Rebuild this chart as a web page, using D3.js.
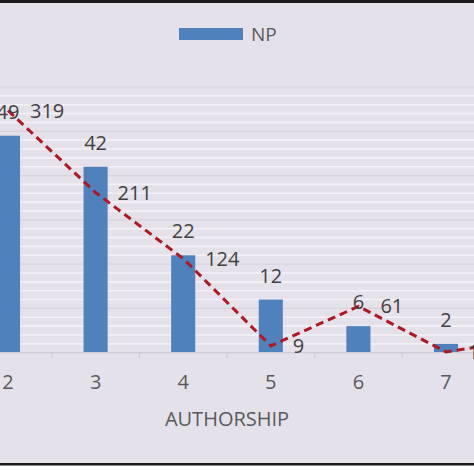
<!DOCTYPE html>
<html>
<head>
<meta charset="utf-8">
<script src="https://cdn.jsdelivr.net/npm/d3@7"></script>
<style>
  html, body { margin: 0; padding: 0; background: #fff; }
  svg { display: block; font-family: "Open Sans", sans-serif; }
</style>
</head>
<body>
<svg id="chart" width="474" height="474"></svg>
<script>
// chart data (the source picture is cropped: category 8 only shows as the line's tail)
var categories = ["2", "3", "4", "5", "6", "7", "8"];
var npValues   = [49, 42, 22, 12, 6, 2, 1];
var lineValues = [319, 211, 124, 9, 61, 1, 19];
var seriesName = "NP";
var axisTitle  = "AUTHORSHIP";

var svg = d3.select("#chart");
var plotTop = 87, plotBottom = 352.7;

// background panel with dark rules at top and bottom
svg.append("rect").attr("x", 0).attr("y", 0).attr("width", 474).attr("height", 474).style("fill", "#fff");
svg.append("rect").attr("x", 0).attr("y", 0).attr("width", 474).attr("height", 464).style("fill", "#e5e1eb");
svg.append("rect").attr("x", 0).attr("y", 0).attr("width", 474).attr("height", 3).style("fill", "#1a1a1a");
svg.append("rect").attr("x", 0).attr("y", 463).attr("width", 474).attr("height", 2.5).style("fill", "#1a1a1a");

var step = 87.6;
var x = d3.scaleBand()
	.domain(categories)
	.range([8 - step / 2, 8 - step / 2 + step * categories.length])
	.padding(0);

var y = d3.scaleLinear().domain([0, 60]).range([plotBottom, plotTop]);
var y2 = d3.scaleLinear().domain([0, 350]).range([plotBottom, plotTop]);

// gridlines: light minor every 2, greyer major every 10
var grid = svg.append("g");
grid.selectAll(".minor")
	.data(d3.range(2, 60, 2).filter(function(d){ return d % 10 != 0; }))
	.enter().append("line")
	.attr("x1", 0).attr("x2", 474)
	.attr("y1", function(d){ return y(d); })
	.attr("y2", function(d){ return y(d); })
	.style("stroke", "#f3f1f7").style("stroke-width", 1.6);
grid.selectAll(".major")
	.data(d3.range(10, 61, 10))
	.enter().append("line")
	.attr("x1", 0).attr("x2", 474)
	.attr("y1", function(d){ return y(d); })
	.attr("y2", function(d){ return y(d); })
	.style("stroke", "#d7d3dc").style("stroke-width", 1.2);

// bars
var barW = x.bandwidth() * 0.275;
svg.selectAll(".bar")
	.data(npValues)
	.enter().append("rect")
	.attr("class", "bar")
	.attr("x", function(d, i){ return x(categories[i]) + x.bandwidth() / 2 - barW / 2; })
	.attr("y", function(d){ return y(d); })
	.attr("width", barW)
	.attr("height", function(d){ return plotBottom - y(d); })
	.style("fill", "#4f81bd");

// category axis
var xAxis = svg.append("g")
	.attr("transform", "translate(0," + plotBottom + ")")
	.call(d3.axisBottom(x).tickSize(0).tickPadding(22));
xAxis.select(".domain").remove();
xAxis.selectAll("text")
	.style("font-family", "Open Sans, sans-serif")
	.style("font-size", "20px")
	.style("fill", "#595959");
svg.append("line")
	.attr("x1", 0).attr("x2", 474)
	.attr("y1", plotBottom).attr("y2", plotBottom)
	.style("stroke", "#cfcad5").style("stroke-width", 1.2);
svg.selectAll(".tickmark")
	.data(categories)
	.enter().append("line")
	.attr("x1", function(d){ return x(d); })
	.attr("x2", function(d){ return x(d); })
	.attr("y1", plotBottom).attr("y2", plotBottom + 5)
	.style("stroke", "#cfcad5").style("stroke-width", 1.2);

svg.append("text")
	.attr("x", 227).attr("y", 426)
	.attr("text-anchor", "middle")
	.style("font-size", "20px")
	.style("fill", "#595959")
	.text(axisTitle);

// dashed trend line
var line = d3.line()
	.x(function(d, i){ return x(categories[i]) + x.bandwidth() / 2; })
	.y(function(d){ return y2(d); });
svg.append("path")
	.datum(lineValues)
	.attr("d", line)
	.style("fill", "none")
	.style("stroke", "#b11722")
	.style("stroke-width", 3)
	.style("stroke-dasharray", "8,5");

// data labels
svg.selectAll(".barLabel")
	.data(npValues)
	.enter().append("text")
	.attr("x", function(d, i){ return x(categories[i]) + x.bandwidth() / 2; })
	.attr("y", function(d){ return y(d) - 17; })
	.attr("text-anchor", "middle")
	.style("font-size", "20px")
	.style("fill", "#404040")
	.text(function(d){ return d; });

svg.selectAll(".lineLabel")
	.data(lineValues)
	.enter().append("text")
	.attr("x", function(d, i){ return x(categories[i]) + x.bandwidth() / 2 + 22; })
	.attr("y", function(d){ return y2(d) + 7; })
	.attr("text-anchor", "start")
	.style("font-size", "20px")
	.style("fill", "#404040")
	.text(function(d){ return d; });

// legend
svg.append("rect")
	.attr("x", 179).attr("y", 28)
	.attr("width", 64).attr("height", 12)
	.style("fill", "#4f81bd");
svg.append("text")
	.attr("x", 251).attr("y", 41)
	.style("font-size", "19px")
	.style("fill", "#595959")
	.text(seriesName);
</script>
</body>
</html>
